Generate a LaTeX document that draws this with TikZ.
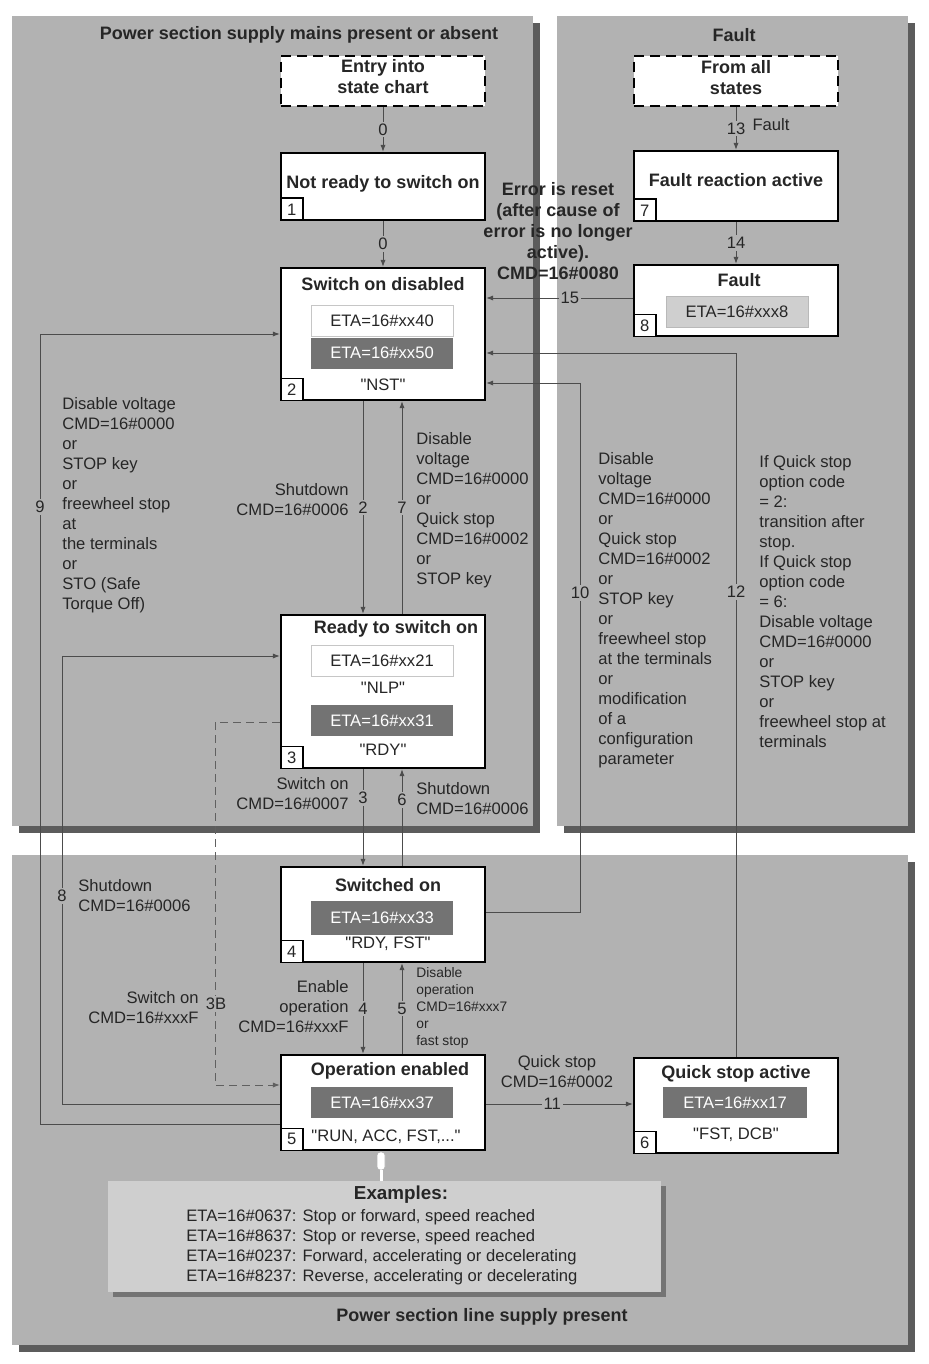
\documentclass[tikz,border=0pt]{standalone}
\usepackage{fontspec}
\setmainfont{Liberation Sans}
\usetikzlibrary{arrows.meta}

\definecolor{panelgray}{gray}{0.70}
\definecolor{panelshadow}{gray}{0.36}
\definecolor{etadark}{gray}{0.45}
\definecolor{exgray}{gray}{0.81}
\definecolor{linegray}{gray}{0.30}

\newcommand\qd{\textquotedbl}

\tikzset{
  panel/.style={fill=panelgray},
  statebox/.style={draw=black, line width=1.1pt, fill=white, minimum width=102pt, inner sep=0pt},
  entrybox/.style={statebox, dash pattern=on 5pt off 3pt, minimum height=25pt},
  statetitle/.style={inner sep=0pt, font=\fontsize{9}{10.5}\selectfont\bfseries},
  etawhite/.style={draw=gray!45, fill=white, minimum width=71pt, minimum height=15.5pt, inner sep=0pt},
  etadk/.style={fill=etadark, text=white, minimum width=71pt, minimum height=15.5pt, inner sep=0pt},
  nr/.style={draw=black, line width=0.8pt, fill=white, minimum size=11pt, inner sep=0pt, anchor=south west},
  conn/.style={draw=linegray, line width=0.5pt, -{Latex[length=3.5pt,width=2.6pt]}},
  trnum/.style={fill=panelgray, inner sep=1pt},
  txt/.style={align=left, anchor=west, inner sep=0pt},
  txtr/.style={align=right, anchor=east, inner sep=0pt},
}

\begin{document}
\begin{tikzpicture}[x=0.5pt, y=-0.5pt, font=\fontsize{8.3}{10}\selectfont, text=black!85]
\useasboundingbox (0,0) rectangle (928,1364);
\fill[white] (0,0) rectangle (928,1364);
% panels with shadow
\fill[panelshadow] (19,23) rectangle (540,833);
\fill[panelshadow] (564,23) rectangle (915,833);
\fill[panelshadow] (19,862) rectangle (915,1352);
\fill[panel] (12,16) rectangle (533,826);
\fill[panel] (557,16) rectangle (908,826);
\fill[panel] (12,855) rectangle (908,1345);
\node[statetitle] (p1) at (299,35) {Power section supply mains present or absent};
\node[statetitle] (p2) at (734,35) {Fault};
\node[statetitle] (p3) at (482,1317) {Power section line supply present};

% states
\node[entrybox] (entry) at (383,81) {};
\node[statetitle, align=center] (entryt) at (383,77) {Entry into\\state chart};
\node[statebox, minimum height=33.5pt] (s1) at (383,186.5) {};
\node[statetitle] (s1t) at (383,184) {Not ready to switch on};
\node[nr] (n1) at (s1.south west) {1};

\node[statebox, minimum height=66pt] (s2) at (383,334) {};
\node[statetitle] (s2t) at (383,284) {Switch on disabled};
\node[etawhite] (s2a) at (382,320.5) {ETA=16\#xx40};
\node[etadk] (s2b) at (382,353) {ETA=16\#xx50};
\node (s2c) at (383,385) {\qd NST\qd};
\node[nr] (n2) at (s2.south west) {2};

\node[statebox, minimum height=76.5pt] (s3) at (383,691.5) {};
\node[statetitle] (s3t) at (396,629) {Ready to switch on};
\node[etawhite] (s3a) at (382,660.5) {ETA=16\#xx21};
\node (s3b) at (383,688) {\qd NLP\qd};
\node[etadk] (s3c) at (382,720.5) {ETA=16\#xx31};
\node (s3d) at (383,750) {\qd RDY\qd};
\node[nr] (n3) at (s3.south west) {3};

\node[statebox, minimum height=47.5pt] (s4) at (383,914.5) {};
\node[statetitle] (s4t) at (388,885) {Switched on};
\node[etadk, minimum height=17pt] (s4a) at (382,917.5) {ETA=16\#xx33};
\node (s4b) at (388,944) {\qd RDY, FST\qd};
\node[nr] (n4) at (s4.south west) {4};

\node[statebox, minimum height=47.5pt] (s5) at (383,1102.5) {};
\node[statetitle] (s5t) at (390,1071) {Operation enabled};
\node[etadk] (s5a) at (382,1102.5) {ETA=16\#xx37};
\node (s5b) at (386,1137) {\qd RUN, ACC, FST,...\qd};
\node[nr] (n5) at (s5.south west) {5};

\node[statebox, minimum height=47.5pt] (s6) at (736,1105.5) {};
\node[statetitle] (s6t) at (736,1074) {Quick stop active};
\node[etadk, minimum width=72pt] (s6a) at (735,1102.5) {ETA=16\#xx17};
\node (s6b) at (736,1135) {\qd FST, DCB\qd};
\node[nr] (n6) at (s6.south west) {6};

\node[entrybox] (all) at (736,81) {};
\node[statetitle, align=center] (allt) at (736,78) {From all\\states};
\node[statebox, minimum height=35pt] (s7) at (736,186) {};
\node[statetitle] (s7t) at (736,180) {Fault reaction active};
\node[nr] (n7) at (s7.south west) {7};

\node[statebox, minimum height=35.5pt] (s8) at (736,300.5) {};
\node[statetitle] (s8t) at (739,280) {Fault};
\node[etawhite, fill=gray!38, draw=gray!55] (s8a) at (737,311.5) {ETA=16\#xxx8};
\node[nr] (n8) at (s8.south west) {8};

% transitions
\draw[conn] (entry) -- (s1) node[trnum, midway] (l0a) {0};
\draw[conn] (s1) -- (s2) node[trnum, midway] (l0b) {0};
\draw[conn] ([xshift=-10pt]s2.south) -- ([xshift=-10pt]s3.north) node[trnum, midway] (l2) {2};
\draw[conn] ([xshift=9.5pt]s3.north) -- ([xshift=9.5pt]s2.south) node[trnum, midway] (l7) {7};
\draw[conn] ([xshift=-10pt]s3.south) -- ([xshift=-10pt]s4.north) node[trnum, pos=0.3] (l3) {3};
\draw[conn] ([xshift=9.5pt]s4.north) -- ([xshift=9.5pt]s3.south) node[trnum, pos=0.68] (l6) {6};
\draw[conn] ([xshift=-10pt]s4.south) -- ([xshift=-10pt]s5.north) node[trnum, midway] (l4) {4};
\draw[conn] ([xshift=9.5pt]s5.north) -- ([xshift=9.5pt]s4.south) node[trnum, midway] (l5) {5};
\draw[conn] ([yshift=-11pt]s5.west) -| (40,334) -- (s2.west);
\node[trnum] (l9) at (40,507) {9};
\draw[conn] ([yshift=-1pt]s5.west) -| (62,656) -- ([yshift=17.75pt]s3.west);
\node[trnum] (l8) at (62,896) {8};
\draw[conn, draw=gray!75!black, dash pattern=on 4pt off 2.5pt] ([yshift=-15.25pt]s3.west) -| (215,1085) -- ([yshift=8.75pt]s5.west);
\node[trnum] (l3b) at (216,1004) {3B};
\draw[conn] ([yshift=1.25pt]s4.east) -| (580,383) -- ([yshift=-24.5pt]s2.east);
\node[trnum] (l10) at (580,593) {10};
\draw[conn] (s6.north) |- ([yshift=-9.5pt]s2.east);
\node[trnum] (l12) at (736,592) {12};
\draw[conn] ([yshift=1.25pt]s8.west) -- ([yshift=18pt]s2.east) node[trnum, pos=0.43] (l15) {15};
\draw[conn] ([yshift=-0.75pt]s5.east) -- ([yshift=-0.75pt]s5.east -| s6.west) node[trnum, pos=0.45] (l11) {11};
\draw[conn] (all) -- (s7) node[trnum, midway] (l13) {13};
\node (l13b) at (771,125) {Fault};
\draw[conn] (s7) -- (s8) node[trnum, midway] (l14) {14};

% transition texts
\node[txt] (x9) at (62,505) {Disable voltage\\CMD=16\#0000\\or\\STOP key\\or\\freewheel stop\\at\\the terminals\\or\\STO (Safe\\Torque Off)};
\node[txtr] (x2) at (349,500) {Shutdown\\CMD=16\#0006};
\node[txt] (x7) at (416,510) {Disable\\voltage\\CMD=16\#0000\\or\\Quick stop\\CMD=16\#0002\\or\\STOP key};
\node[txt] (x10) at (598,610) {Disable\\voltage\\CMD=16\#0000\\or\\Quick stop\\CMD=16\#0002\\or\\STOP key\\or\\freewheel stop\\at the terminals\\or\\modification\\of a\\configuration\\parameter};
\node[txt] (x12) at (759,602) {If Quick stop\\option code\\= 2:\\transition after\\stop.\\If Quick stop\\option code\\= 6:\\Disable voltage\\CMD=16\#0000\\or\\STOP key\\or\\freewheel stop at\\terminals};
\node[txtr] (x3) at (349,794) {Switch on\\CMD=16\#0007};
\node[txt] (x6) at (416,799) {Shutdown\\CMD=16\#0006};
\node[txt] (x8) at (78,896) {Shutdown\\CMD=16\#0006};
\node[txtr] (x3b) at (199,1008) {Switch on\\CMD=16\#xxxF};
\node[txtr] (x4) at (349,1007) {Enable\\operation\\CMD=16\#xxxF};
\node[txt, font=\fontsize{6.9}{8.5}\selectfont] (x5) at (416,1008) {Disable\\operation\\CMD=16\#xxx7\\or\\fast stop};
\node[align=center, inner sep=0pt] (x11) at (557,1072) {Quick stop\\CMD=16\#0002};
\node[statetitle, align=center] (x15) at (558,231.5) {Error is reset\\(after cause of\\error is no longer\\active).\\CMD=16\#0080};

% examples
\fill[panelshadow!85] (113,1186) rectangle (666,1297);
\node[fill=exgray, minimum width=276.5pt, minimum height=55.5pt, inner sep=0pt] (ex) at (384.5,1236.5) {};
\node[statetitle, font=\fontsize{9.4}{11}\selectfont\bfseries] (ext) at (401,1195) {Examples:};
\node[txt, font=\fontsize{8.3}{10}\selectfont] (exl) at (186,1247) {ETA=16\#0637: Stop or forward, speed reached\\ETA=16\#8637: Stop or reverse, speed reached\\ETA=16\#0237: Forward, accelerating or decelerating\\ETA=16\#8237: Reverse, accelerating or decelerating};
\node[fill=white, draw=gray!60, rounded corners=1.5pt, minimum width=4pt, minimum height=9pt, inner sep=0pt] (pin) at (381,1161) {};
\draw[white, line width=1.5pt] (pin) -- (pin |- ex.north);
\end{tikzpicture}
\end{document}
